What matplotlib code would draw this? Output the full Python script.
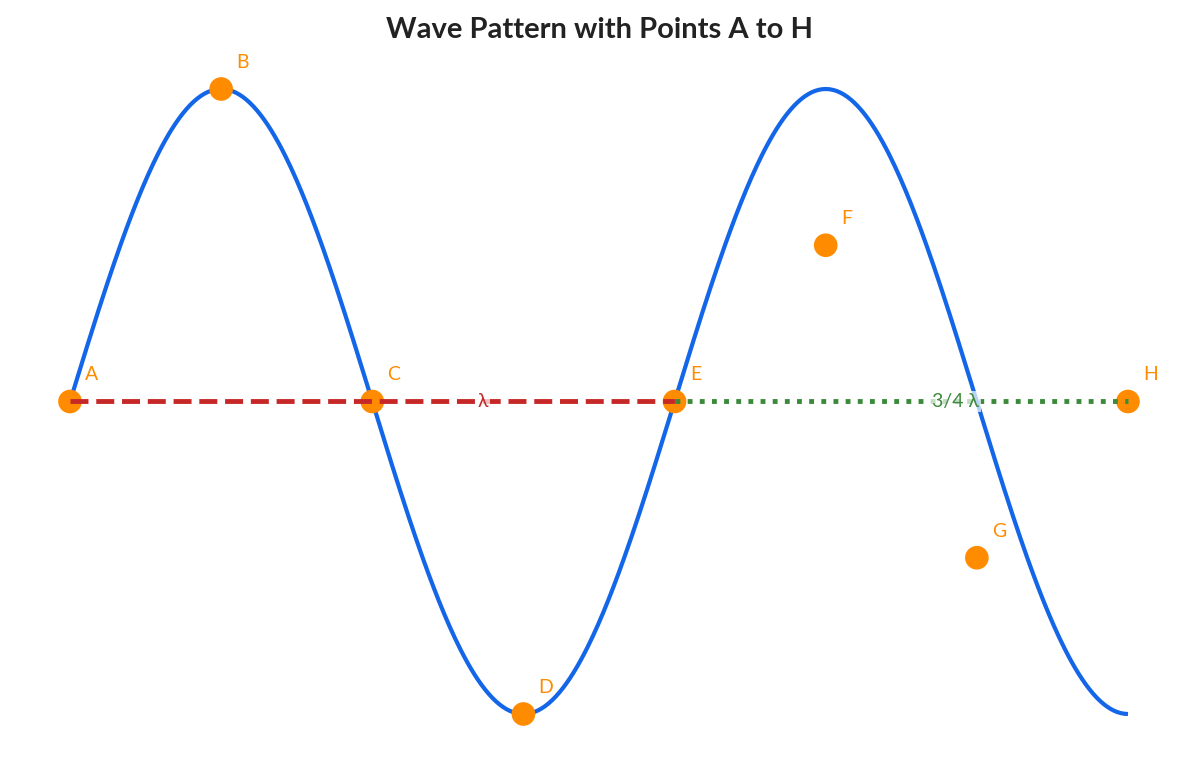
import numpy as np
import matplotlib
matplotlib.use("Agg")
from matplotlib import pyplot as plt

# wave and point data
wave_end = 3.5 * np.pi
point_names = ["A", "B", "C", "D", "E", "F", "G", "H"]
point_x = [0, np.pi / 2, np.pi, 3 * np.pi / 2, 2 * np.pi, 5 * np.pi / 2, 3 * np.pi, 3.5 * np.pi]
point_y = [0, 1, 0, -1, 0, 0.5, -0.5, 0]

lambda_span = [0, 2 * np.pi]
three_quarter_span = [2 * np.pi, 3.5 * np.pi]
lambda_label_x = 4.29
three_quarter_label_x = 9.2

plt.rcParams['font.family'] = ['Lato', 'DejaVu Sans']

fig = plt.figure(figsize=(12, 7.63), dpi=100)
ax = fig.add_axes([70 / 1200, (763 - 714) / 763, 1058 / 1200, 625 / 763])

xs = np.linspace(0, wave_end, 600)
ax.plot(xs, np.sin(xs), color='#1466e8', lw=3, zorder=2, clip_on=False,
        solid_capstyle='butt')

ax.scatter(point_x, point_y, s=290, color='#ff8c00', zorder=3, clip_on=False,
           edgecolors='none')
for name, px, py in zip(point_names, point_x, point_y):
    ax.annotate(name, (px, py), xytext=(11, 13), textcoords='offset points',
                color='#ff8c00', fontsize=14, ha='left', va='bottom',
                zorder=6, annotation_clip=False)

ax.plot(lambda_span, [0, 0], color='#c62828', lw=3.5, dashes=(3.7, 1.6),
        zorder=4, clip_on=False)
ax.plot(three_quarter_span, [0, 0], color='#3a8a3a', lw=3.5, dashes=(1, 1.5),
        zorder=4, clip_on=False)

box = dict(boxstyle='square,pad=0.1', fc='white', ec='none', alpha=0.7)
ax.text(lambda_label_x, 0, "λ", color='#c62828', fontsize=14, ha='center',
        va='center', bbox=box, zorder=5)
ax.text(three_quarter_label_x, 0, "3/4 λ", color='#3a8a3a', fontsize=14,
        ha='center', va='center', bbox=box, zorder=5)

ax.set_xlim(0, wave_end)
ax.set_ylim(-1, 1)
ax.axis('off')

fig.suptitle("Wave Pattern with Points A to H", fontsize=21, fontweight='bold',
             color='#222222', y=0.978)

fig.savefig("out.png", dpi=100)
